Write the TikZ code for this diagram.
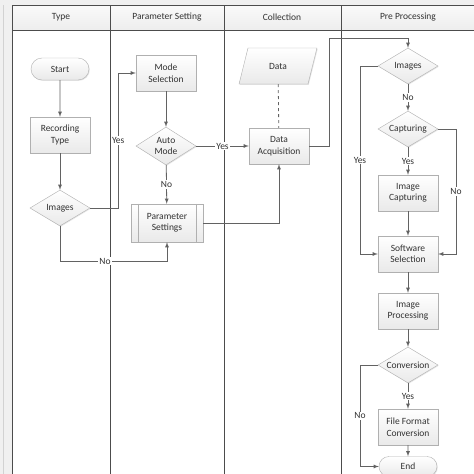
\documentclass[tikz,border=0pt]{standalone}
\usepackage{fontspec}
\setmainfont{Carlito}
\usepackage{tikz}
\usetikzlibrary{arrows,shapes.geometric,shapes.misc,shadows}

\definecolor{trait}{HTML}{626262}
\definecolor{bord}{HTML}{B0B0B0}
\definecolor{texte}{HTML}{333333}

\tikzset{
  boite/.style={draw=bord, top color=white, bottom color=gray!17,
    drop shadow={opacity=0.2,shadow xshift=0.8pt,shadow yshift=-0.8pt},
    minimum width=60pt, minimum height=36pt, align=center, text=texte,
    inner sep=1pt, font=\fontsize{9.5}{11.5}\selectfont},
  choix/.style={boite, diamond, aspect=1.65, inner sep=0pt},
  terminal/.style={boite, rounded rectangle, minimum height=22pt},
  donnee/.style={boite, trapezium, trapezium left angle=70, trapezium right angle=110,
    trapezium stretches=true, minimum width=78pt},
  fleche/.style={draw=trait, line width=0.8pt, ->, >=latex},
  lbl/.style={fill=white, inner sep=1pt, text=texte, font=\fontsize{9.5}{11}\selectfont},
  couloir/.style={draw=gray!60!black, line width=1pt}
}

\begin{document}
\begin{tikzpicture}[x=1pt,y=-1pt]
    \useasboundingbox (0,0) rectangle (474,474);
    \clip (0,0) rectangle (474,474);

    % Fond et bandeau
    \fill[white] (0,0) rectangle (474,474);
    \fill[gray!12] (0,0) rectangle (12,474);
    \fill[gray!12] (0,0) rectangle (474,5);
    \draw[gray!35] (3,5) -- (3,474);
    \fill[top color=gray!4, bottom color=gray!14] (12,5) rectangle (474,30);
    \draw[couloir] (12,5) -- (474,5);
    \draw[couloir] (12,30) -- (474,30);

    % Couloirs
    \foreach \x in {12,110,224,341} {
        \draw[couloir] (\x,5) -- (\x,474);
    }

    % Titres des couloirs
    \foreach \x/\nom in {61/Type,167/Parameter Setting,282/Collection,408/Pre Processing} {
        \node[text=texte, font=\fontsize{9.5}{11}\selectfont] (titre\x) at (\x,17.5) {\nom};
    }

    % Type
    \node[terminal] (start) at (60,69) {Start};
    \node[boite] (enreg) at (60,135) {Recording\\Type};
    \node[choix] (imgA) at (60,208) {Images};

    % Parameter Setting
    \node[boite] (mode) at (166,73) {Mode\\Selection};
    \node[choix, minimum height=38pt] (auto) at (166,146) {Auto\\Mode};
    \node[boite, minimum width=72pt, minimum height=38pt] (param) at (167,223) {Parameter\\Settings};
    \draw[bord] ([xshift=7pt]param.north west) -- ([xshift=7pt]param.south west);
    \draw[bord] ([xshift=-7pt]param.north east) -- ([xshift=-7pt]param.south east);

    % Collection
    \node[donnee] (data) at (278,66) {Data};
    \node[boite] (acq) at (279,146) {Data\\Acquisition};

    % Pre Processing
    \node[choix] (imgB) at (408,66) {Images};
    \node[choix] (capt) at (408,129) {Capturing};
    \node[boite] (imgcapt) at (408,193) {Image\\Capturing};
    \node[boite] (logiciel) at (408,254) {Software\\Selection};
    \node[boite] (traitement) at (408,311) {Image\\Processing};
    \node[choix] (conv) at (408,365) {Conversion};
    \node[boite] (format) at (408,427) {File Format\\Conversion};
    \node[terminal, minimum height=20pt] (fin) at (408,466.5) {End};

    % Liaisons
    \draw[fleche] (start) -- (enreg);
    \draw[fleche] (enreg) -- (imgA);
    \draw[fleche] (imgA.east) -- ++(28,0) |- node[lbl, pos=0.25] {Yes} (mode.west);
    \draw[fleche] (imgA.south) -- (60,261) -| node[lbl, pos=0.21] {No} (param.south);
    \draw[fleche] (mode) -- (auto);
    \draw[fleche] (auto) -- node[lbl] {No} (param);
    \draw[fleche] (auto.east) -- node[lbl] {Yes} (acq.west);
    \draw[fleche] (param.east) -| (acq.south);
    \draw[draw=trait, line width=0.8pt, dashed] (data) -- (acq);
    \draw[fleche] (acq.east) -| (329,38) -| (imgB.north);
    \draw[fleche] (imgB.west) -- (360,66) |- node[lbl, pos=0.25] {Yes} (logiciel.west);
    \draw[fleche] (imgB) -- node[lbl] {No} (capt);
    \draw[fleche] (capt) -- node[lbl] {Yes} (imgcapt);
    \draw[fleche] (capt.east) -- (456,129) |- node[lbl, pos=0.25] {No} (logiciel.east);
    \draw[fleche] (imgcapt) -- (logiciel);
    \draw[fleche] (logiciel) -- (traitement);
    \draw[fleche] (traitement) -- (conv);
    \draw[fleche] (conv) -- node[lbl] {Yes} (format);
    \draw[fleche] (format) -- (fin);
    \draw[fleche] (conv.west) -- (360,365) |- node[lbl, pos=0.25] {No} (fin.west);

\end{tikzpicture}
\end{document}
